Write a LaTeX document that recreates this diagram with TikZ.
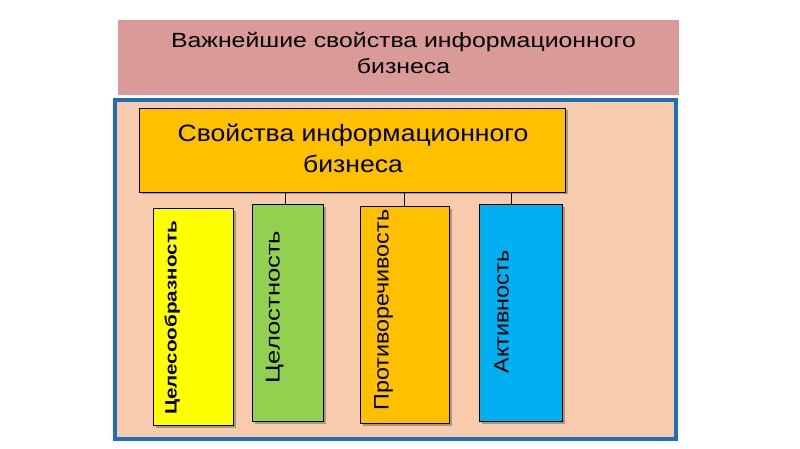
\documentclass[tikz,border=0pt]{standalone}
\usepackage{fontspec}
\usepackage{graphicx}
\setmainfont{Liberation Sans}
\newfontfamily\titlefont[FakeStretch=1.21]{Liberation Sans}
\newfontfamily\mainfont[FakeStretch=1.12]{Liberation Sans}
\usetikzlibrary{shadows}
\definecolor{titlepink}{HTML}{D99A98}
\definecolor{peach}{HTML}{F8CBAD}
\definecolor{frameblue}{HTML}{1F6FB8}
\definecolor{orangeb}{HTML}{FFC000}
\definecolor{yellowb}{HTML}{FFFF00}
\definecolor{greenb}{HTML}{92D050}
\definecolor{blueb}{HTML}{00B0F0}
\tikzset{
  boxstyle/.style={draw=black, line width=0.8pt, inner sep=0pt,
    drop shadow={shadow xshift=2.5pt, shadow yshift=-2.5pt, fill=black!55, opacity=0.6}},
  childbox/.style={boxstyle, minimum height=217pt},
  vlabel/.style={rotate=90, inner sep=0pt, anchor=base, font=\fontsize{21}{25}\selectfont},
  link/.style={draw=black, line width=0.6pt}
}
\begin{document}
\begin{tikzpicture}[x=1pt, y=-1pt]
\useasboundingbox (0,0) rectangle (800,449);
\fill[white] (0,0) rectangle (800,449);
% title
\node[fill=titlepink, minimum width=561pt, minimum height=75pt, inner sep=0pt] (title) at (398.5,57.5) {};
\node[inner sep=0pt, anchor=base, align=center, font=\titlefont\fontsize{20.5}{26.5}\selectfont] (titletext) at (403.5,74)
  {Важнейшие свойства информационного\\бизнеса};
% frame
\node[fill=peach, draw=frameblue, line width=3.5pt, minimum width=561pt, minimum height=339pt, inner sep=0pt] (frame) at (395.5,269.5) {};
% main box
\node[boxstyle, fill=orangeb, minimum width=426pt, minimum height=84pt] (main) at (352,150) {};
\node[inner sep=0pt, anchor=base, align=center, font=\mainfont\fontsize{23.7}{31}\selectfont] (maintext) at (353,173)
  {Свойства информационного\\бизнеса};
% children
\node[childbox, fill=yellowb, minimum width=80pt] (c1) at (193,316.5) {};
\node[childbox, fill=greenb, minimum width=71pt] (c2) at (287.5,313) {};
\node[childbox, fill=orangeb, minimum width=89pt] (c3) at (404.5,315) {};
\node[childbox, fill=blueb, minimum width=83pt] (c4) at (520.5,313) {};
% labels
\node[vlabel, font=\fontsize{16.5}{20}\selectfont\bfseries] (t1) at (176.5,318) {\scalebox{1.25}[1]{Целесообразность}};
\node[vlabel, font=\fontsize{20}{24}\selectfont] (t2) at (279.5,307) {\scalebox{1.28}[1]{Целостность}};
\node[vlabel] (t3) at (388.5,310) {\scalebox{1.11}[1]{Противоречивость}};
\node[vlabel] (t4) at (508.5,312) {\scalebox{1.11}[1]{Активность}};
% connectors
\draw[link] ([xshift=-2.5pt]c2.north) -- ([xshift=-2.5pt]c2.north |- main.south);
\draw[link] (c3.north) -- (c3.north |- main.south);
\draw[link] ([xshift=-9.5pt]c4.north) -- ([xshift=-9.5pt]c4.north |- main.south);
\end{tikzpicture}
\end{document}
